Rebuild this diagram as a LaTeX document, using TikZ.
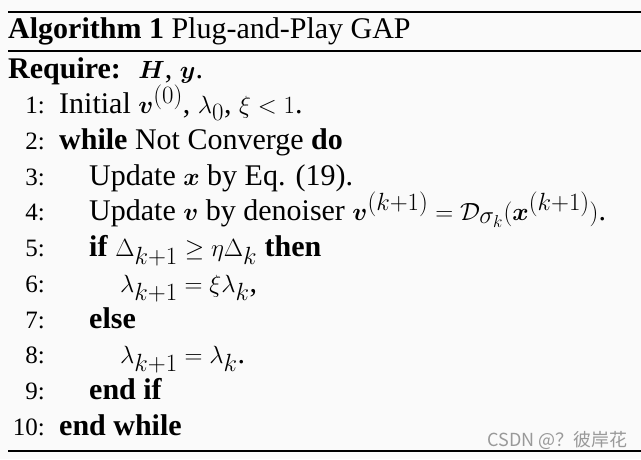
\documentclass[tikz,border=0pt]{standalone}
\usepackage{amsmath,amssymb,bm}
\usepackage{fontspec}
\setmainfont{Liberation Serif}
\newfontfamily\cjk{Noto Sans CJK SC}
\DeclareMathSizes{30}{33}{24}{18}
\begin{document}
\begin{tikzpicture}[x=1pt,y=-1pt,
  txt/.style={anchor=base west,inner sep=0pt,font=\fontsize{30}{34}\selectfont},
  num/.style={anchor=base east,inner sep=0pt,font=\fontsize{25}{30}\selectfont}]
\fill[white!98!black] (0,0) rectangle (641,459);
\useasboundingbox (0,0) rectangle (641,459);
\draw[line width=2.2pt] (8,12) -- (641,12);
\draw[line width=1.2pt] (8,51) -- (641,51);
\draw[line width=1.2pt] (8,451) -- (641,451);
\node[txt] (t) at (8,38) {\textbf{Algorithm 1} Plug-and-Play GAP};
\node[txt] (r) at (8,78) {\textbf{Require:} \ $\bm{H}$, $\bm{y}$.};
\foreach \n/\yy in {1/113,2/149,3/185,4/220,5/256,6/292,7/328,8/363,9/399,10/435}
  \node[num] (n\n) at (45,\yy) {\n:};
\node[txt] (l1) at (59,113) {Initial $\bm{v}^{(0)}$, $\lambda_0$, $\xi<1$.};
\node[txt] (l2) at (59,149) {\textbf{while} Not Converge \textbf{do}};
\node[txt] (l3) at (89,185) {Update $\bm{x}$ by Eq. (19).};
\node[txt] (l4) at (89,220) {Update $\bm{v}$ by denoiser $\bm{v}^{(k+1)}=\mathcal{D}_{\sigma_k}(\bm{x}^{(k+1)})$.};
\node[txt] (l5) at (89,256) {\textbf{if} $\Delta_{k+1}\geq\eta\Delta_k$ \textbf{then}};
\node[txt] (l6) at (120,292) {$\lambda_{k+1}=\xi\lambda_k$,};
\node[txt] (l7) at (89,328) {\textbf{else}};
\node[txt] (l8) at (120,363) {$\lambda_{k+1}=\lambda_k$.};
\node[txt] (l9) at (89,399) {\textbf{end if}};
\node[txt] (l10) at (59,435) {\textbf{end while}};
\node[anchor=base east,inner sep=0pt,font=\cjk\fontsize{18}{22}\selectfont,text=black!40] (wm) at (628,446) {CSDN @？彼岸花};
\end{tikzpicture}
\end{document}
